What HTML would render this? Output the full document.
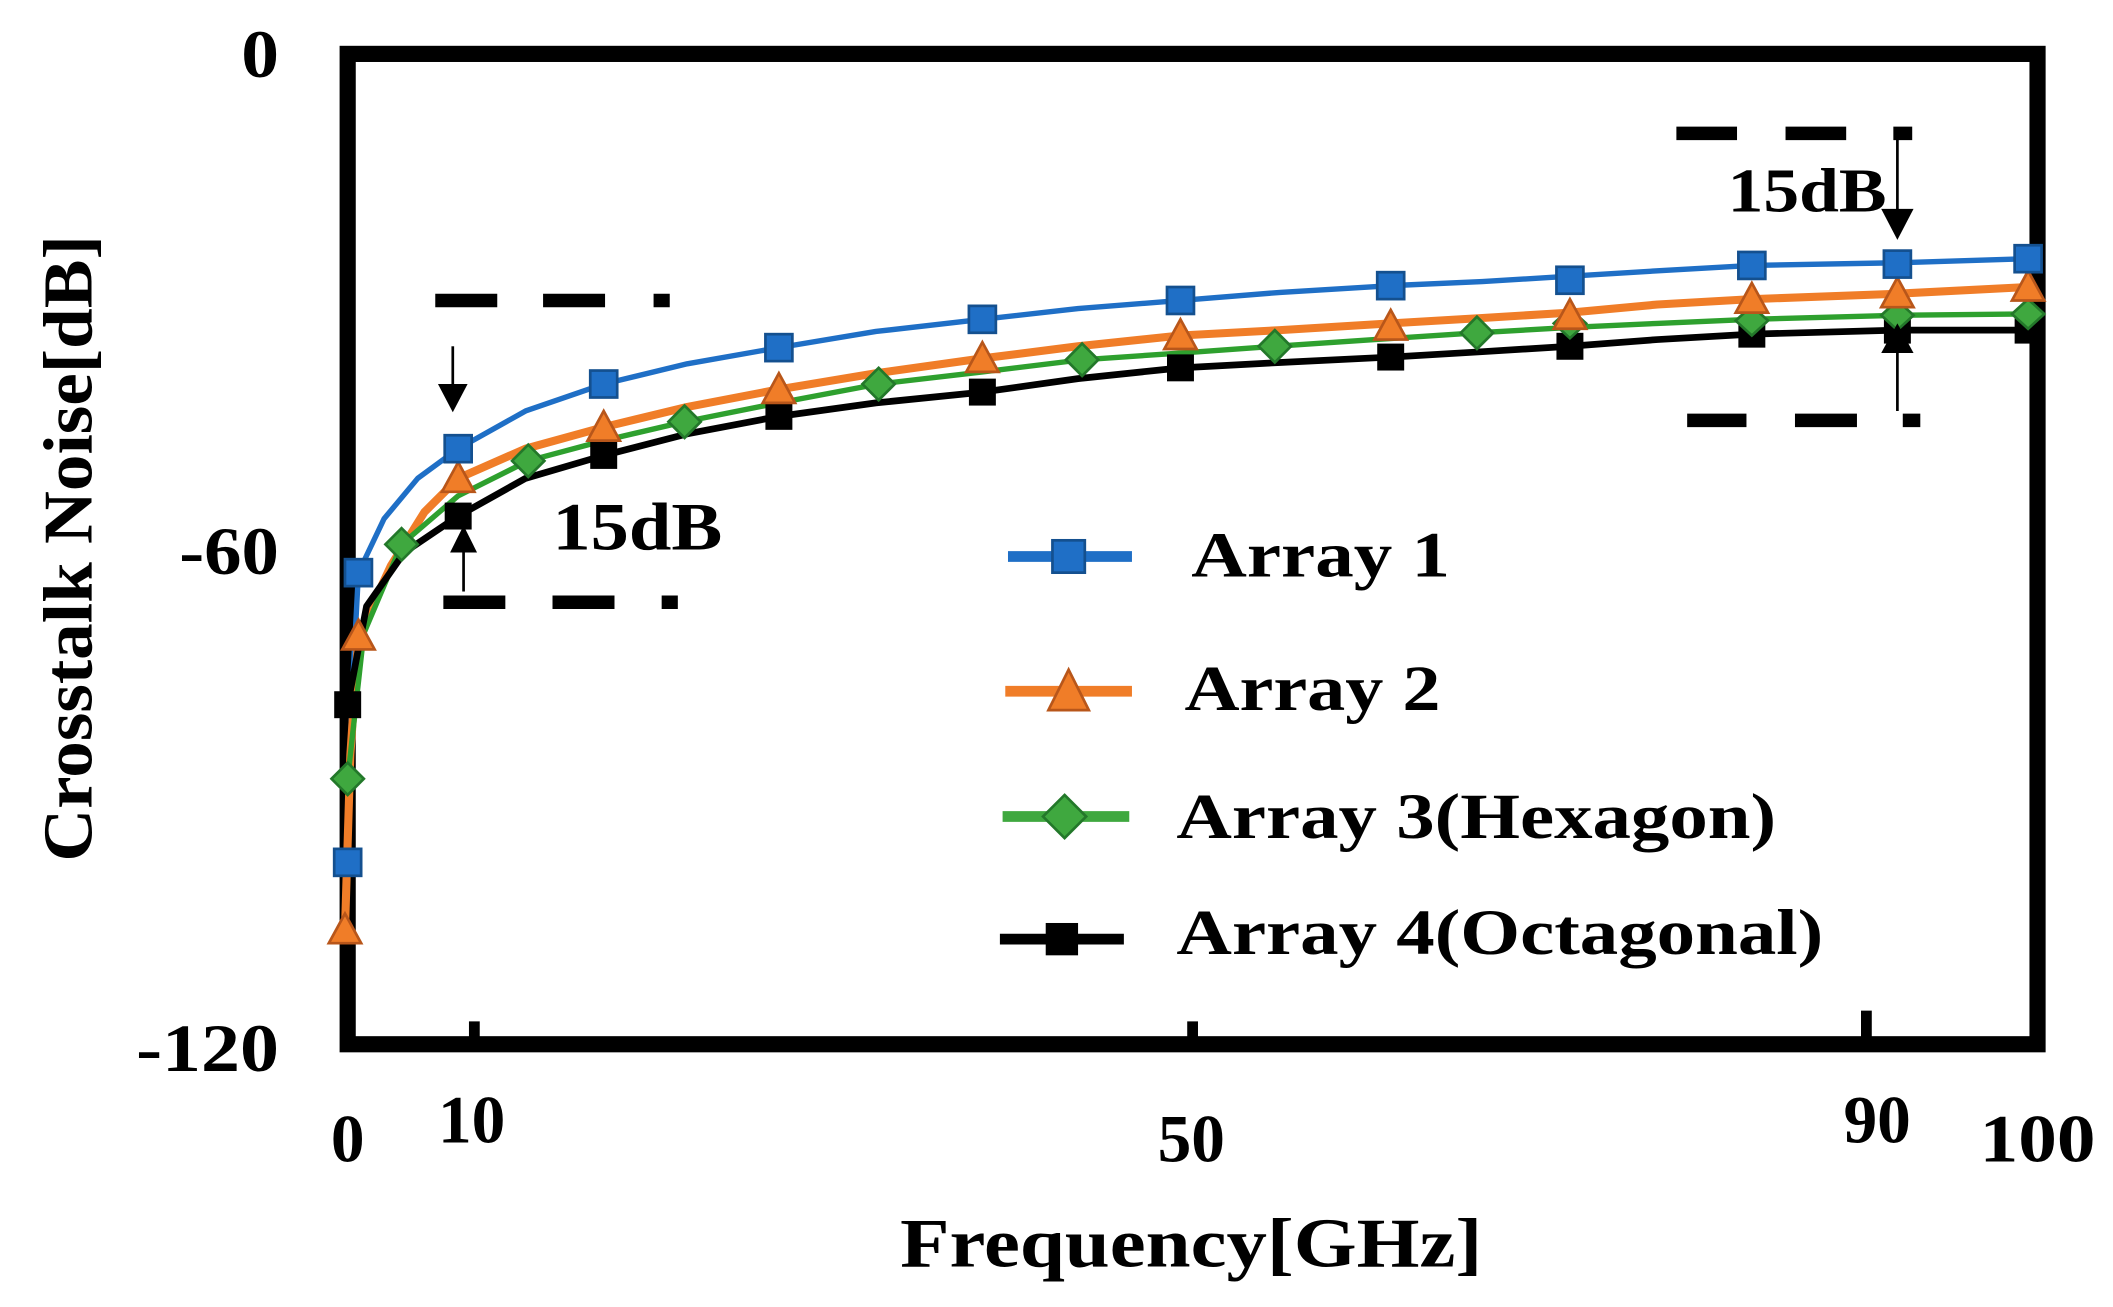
<!DOCTYPE html>
<html><head><meta charset="utf-8"><style>
html,body{margin:0;padding:0;background:#fff;}
svg{display:block;}
text{font-family:"Liberation Serif",serif;font-weight:bold;fill:#000;}
</style></head><body>
<svg width="2113" height="1307" viewBox="0 0 1568 970" preserveAspectRatio="none" xmlns="http://www.w3.org/2000/svg">
<rect x="0" y="0" width="1568" height="970" fill="#fff"/>
<rect x="258" y="40" width="1254" height="735" fill="none" stroke="#000" stroke-width="12"/>
<g stroke="#000" stroke-width="8">
<line x1="352" y1="758" x2="352" y2="775"/>
<line x1="885" y1="758" x2="885" y2="775"/>
<line x1="1385" y1="750" x2="1385" y2="775"/>
</g>
<g font-size="50" text-anchor="end">
<text x="207" y="57" textLength="28" lengthAdjust="spacingAndGlyphs">0</text>
<text x="207" y="426" textLength="74" lengthAdjust="spacingAndGlyphs">-60</text>
<text x="207" y="795" textLength="106" lengthAdjust="spacingAndGlyphs">-120</text>
</g>
<g font-size="50" text-anchor="middle">
<text x="258" y="862">0</text>
<text x="350" y="848">10</text>
<text x="884" y="862">50</text>
<text x="1393" y="848">90</text>
<text x="1512" y="862" textLength="86" lengthAdjust="spacingAndGlyphs">100</text>
</g>
<text x="884" y="940" font-size="52" text-anchor="middle" textLength="432" lengthAdjust="spacingAndGlyphs">Frequency[GHz]</text>
<text transform="translate(68,407) rotate(-90)" font-size="52" text-anchor="middle" textLength="465" lengthAdjust="spacingAndGlyphs">Crosstalk Noise[dB]</text>

<g fill="none" stroke-linejoin="round" stroke-linecap="round">
<polyline stroke="#1f6fc6" stroke-width="4" points="258,640 261,520 266,425 285,385 310,355 340,333 390,305 448,285 510,270 578,258 650,246 729,237 800,229 876,223 950,217 1032,212 1100,209 1165,205 1230,201 1300,197 1408,195 1505,192"/>
<polyline stroke="#f07d28" stroke-width="6" points="256,690 260,560 266,472 290,420 315,380 340,355 390,333 448,317 510,302 578,289 650,277 729,266 800,257 876,249 950,245 1032,240 1100,236 1165,232 1230,226 1300,222 1408,218 1505,213"/>
<polyline stroke="#2ea02e" stroke-width="4" points="258,578 270,470 298,404 340,368 392,342 448,327 508,313 578,299 652,285 729,276 803,267 876,262 946,257 1020,252 1096,247 1165,243 1230,240 1300,237 1408,234 1505,233"/>
<polyline stroke="#000" stroke-width="5" points="258,523 272,450 300,410 340,383 390,355 448,338 510,322 578,309 650,299 729,291 800,281 876,273 950,269 1032,265 1100,261 1165,257 1230,252 1300,248 1408,245 1505,245"/>
</g>

<g fill="#000">
<rect x="248" y="513" width="20" height="20"/>
<rect x="330" y="373" width="20" height="20"/>
<rect x="438" y="328" width="20" height="20"/>
<rect x="568" y="299" width="20" height="20"/>
<rect x="719" y="281" width="20" height="20"/>
<rect x="866" y="263" width="20" height="20"/>
<rect x="1022" y="255" width="20" height="20"/>
<rect x="1155" y="247" width="20" height="20"/>
<rect x="1290" y="238" width="20" height="20"/>
<rect x="1398" y="235" width="20" height="20"/>
<rect x="1495" y="235" width="20" height="20"/>
</g>
<g fill="#3fa83f" stroke="#23782a" stroke-width="2">
<polygon points="258,566 270,578 258,590 246,578"/>
<polygon points="298,392 310,404 298,416 286,404"/>
<polygon points="392,330 404,342 392,354 380,342"/>
<polygon points="508,301 520,313 508,325 496,313"/>
<polygon points="652,273 664,285 652,297 640,285"/>
<polygon points="803,255 815,267 803,279 791,267"/>
<polygon points="946,245 958,257 946,269 934,257"/>
<polygon points="1096,235 1108,247 1096,259 1084,247"/>
<polygon points="1165,229 1177,240 1165,251 1153,240"/>
<polygon points="1300,227 1312,238 1300,249 1288,238"/>
<polygon points="1408,223 1420,234 1408,245 1396,234"/>
<polygon points="1505,222 1517,233 1505,244 1493,233"/>
</g>
<g fill="#f07d28" stroke="#b8561a" stroke-width="2">
<polygon points="256,678 268,700 244,700"/>
<polygon points="266,460 278,482 254,482"/>
<polygon points="340,343 352,365 328,365"/>
<polygon points="448,305 460,327 436,327"/>
<polygon points="578,277 590,299 566,299"/>
<polygon points="729,254 741,276 717,276"/>
<polygon points="876,237 888,259 864,259"/>
<polygon points="1032,230 1044,252 1020,252"/>
<polygon points="1165,222 1177,244 1153,244"/>
<polygon points="1300,210 1312,232 1288,232"/>
<polygon points="1408,206 1420,228 1396,228"/>
<polygon points="1505,201 1517,223 1493,223"/>
</g>
<g fill="#1f6fc6" stroke="#14508f" stroke-width="2">
<rect x="248" y="630" width="20" height="20"/>
<rect x="256" y="415" width="20" height="20"/>
<rect x="330" y="323" width="20" height="20"/>
<rect x="438" y="275" width="20" height="20"/>
<rect x="568" y="248" width="20" height="20"/>
<rect x="719" y="227" width="20" height="20"/>
<rect x="866" y="213" width="20" height="20"/>
<rect x="1022" y="202" width="20" height="20"/>
<rect x="1155" y="198" width="20" height="20"/>
<rect x="1290" y="187" width="20" height="20"/>
<rect x="1398" y="186" width="20" height="20"/>
<rect x="1495" y="182" width="20" height="20"/>
</g>

<g stroke="#000" stroke-width="10">
<line x1="323" y1="223" x2="369" y2="223"/><line x1="403" y1="223" x2="449" y2="223"/><line x1="485" y1="223" x2="497" y2="223"/>
<line x1="329" y1="447" x2="375" y2="447"/><line x1="410" y1="447" x2="456" y2="447"/><line x1="491" y1="447" x2="503" y2="447"/>
<line x1="1244" y1="99" x2="1289" y2="99"/><line x1="1325" y1="99" x2="1370" y2="99"/><line x1="1405" y1="99" x2="1419" y2="99"/>
<line x1="1252" y1="312" x2="1296" y2="312"/><line x1="1332" y1="312" x2="1378" y2="312"/><line x1="1412" y1="312" x2="1425" y2="312"/>
</g>
<g stroke="#000" stroke-width="2">
<line x1="336" y1="257" x2="336" y2="290"/>
<line x1="344" y1="439" x2="344" y2="405"/>
<line x1="1408" y1="100" x2="1408" y2="160"/>
<line x1="1408" y1="305" x2="1408" y2="255"/>
</g>
<g fill="#000">
<polygon points="325,285 347,285 336,306"/>
<polygon points="334,410 354,410 344,390"/>
<polygon points="1396,155 1420,155 1408,178"/>
<polygon points="1396,262 1420,262 1408,240"/>
</g>
<text x="410" y="408" font-size="50" textLength="126" lengthAdjust="spacingAndGlyphs">15dB</text>
<text x="1282" y="157" font-size="46" textLength="118" lengthAdjust="spacingAndGlyphs">15dB</text>

<line x1="748" y1="413" x2="840" y2="413" stroke="#1f6fc6" stroke-width="8"/>
<rect x="781" y="401" width="24" height="24" fill="#1f6fc6" stroke="#14508f" stroke-width="2"/>
<text x="884" y="428" font-size="48" textLength="192" lengthAdjust="spacingAndGlyphs">Array 1</text>
<line x1="746" y1="513" x2="840" y2="513" stroke="#f07d28" stroke-width="8"/>
<polygon points="793,497 808,527 778,527" fill="#f07d28" stroke="#b8561a" stroke-width="2"/>
<text x="879" y="527" font-size="48" textLength="190" lengthAdjust="spacingAndGlyphs">Array 2</text>
<line x1="744" y1="606" x2="838" y2="606" stroke="#3fa83f" stroke-width="8"/>
<polygon points="790,590 806,606 790,622 774,606" fill="#3fa83f" stroke="#23782a" stroke-width="2"/>
<text x="873" y="622" font-size="48" textLength="445" lengthAdjust="spacingAndGlyphs">Array 3(Hexagon)</text>
<line x1="742" y1="697" x2="834" y2="697" stroke="#000" stroke-width="8"/>
<rect x="776" y="685" width="24" height="24" fill="#000"/>
<text x="873" y="708" font-size="48" textLength="480" lengthAdjust="spacingAndGlyphs">Array 4(Octagonal)</text>
</svg>
</body></html>
